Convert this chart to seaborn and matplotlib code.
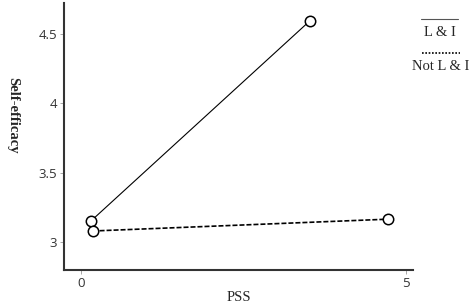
import matplotlib
matplotlib.use("Agg")
import matplotlib.pyplot as plt
import seaborn as sns
import pandas as pd
from matplotlib.lines import Line2D

groups = ["L & I", "Not L & I"]
pss_li = [0.15, 3.52]
eff_li = [3.15, 4.59]
pss_not = [0.18, 4.72]
eff_not = [3.08, 3.165]
xticks = [0, 5]
yticks = [3, 3.5, 4, 4.5]
ytick_labels = ["3", "3.5", "4", "4.5"]

df = pd.DataFrame({
    "PSS": pss_li + pss_not,
    "eff": eff_li + eff_not,
    "group": [groups[0]] * len(pss_li) + [groups[1]] * len(pss_not),
})

sns.set_style("white")
fig = plt.figure(figsize=(4.74, 3.05), dpi=100)
ax = fig.add_axes([0.135, 0.115, 0.736, 0.875])

sns.lineplot(data=df, x="PSS", y="eff", style="group",
             dashes={groups[0]: "", groups[1]: (3, 1.2)},
             markers={groups[0]: "o", groups[1]: "o"},
             color="black", legend=False, ax=ax, sort=False,
             markersize=7.5, markerfacecolor="white",
             markeredgecolor="black", markeredgewidth=1.1)
for ln, lw in zip(ax.lines, [0.8, 1.2]):
    ln.set_linewidth(lw)

ax.set_xlim(-0.26, 5.11)
ax.set_ylim(2.8, 4.72)
ax.set_xticks(xticks)
ax.set_xticklabels([str(t) for t in xticks], fontfamily="Open Sans", fontsize=9.5, color="#333333")
ax.set_yticks(yticks)
ax.set_yticklabels(ytick_labels, fontfamily="Open Sans", fontsize=9.5, color="#333333")
ax.tick_params(axis="both", direction="out", length=3, width=0.6, color="#999999", pad=2, bottom=True, left=True)

for s in ["top", "right"]:
    ax.spines[s].set_visible(False)
for s in ["left", "bottom"]:
    ax.spines[s].set_color("#333333")
    ax.spines[s].set_linewidth(1.5)

ax.set_xlabel("PSS", fontfamily="Liberation Serif", fontsize=10.5, labelpad=1)
ax.set_ylabel("")
fig.text(0.026, 0.623, "Self-efficacy", rotation=270, ha="center", va="center",
         fontfamily="Liberation Serif", fontweight="bold", fontsize=10.5)

# custom legend
fig.add_artist(Line2D([421/474, 458/474], [1 - 19/305, 1 - 19/305], color="#555555", lw=0.8))
fig.text(440/474, 1 - 33/305, groups[0], ha="center", va="center", fontfamily="Liberation Serif", fontsize=10.5)
fig.add_artist(Line2D([422/474, 460/474], [1 - 53/305, 1 - 53/305], color="black", lw=1.2, linestyle=(0, (1, 1))))
fig.text(441/474, 1 - 67/305, groups[1], ha="center", va="center", fontfamily="Liberation Serif", fontsize=10.5)

fig.savefig("out.png", dpi=100)
